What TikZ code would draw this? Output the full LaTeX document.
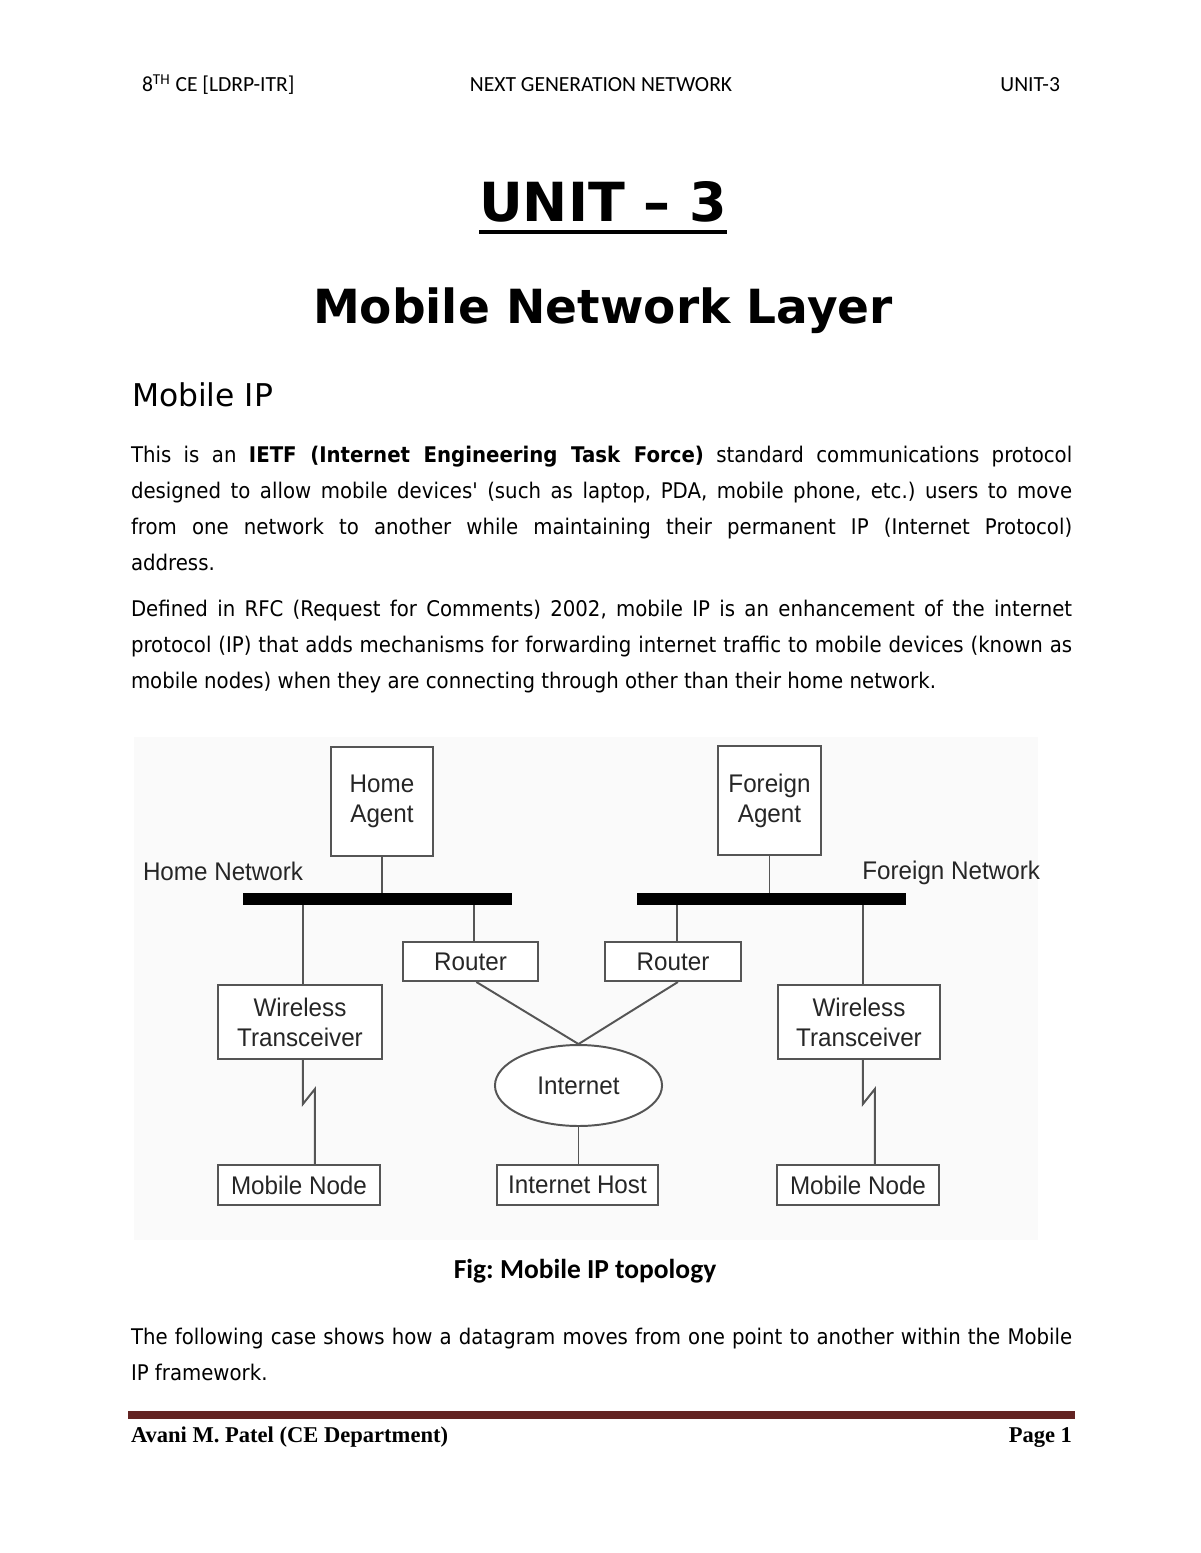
\documentclass[tikz,border=0pt]{standalone}
\usepackage{fontspec}
\usetikzlibrary{shapes.geometric}
\setmainfont{DejaVu Sans}
\newfontfamily\bodyfont{DejaVu Sans}[FakeStretch=0.915]
\newfontfamily\hdrfont{Carlito}
\newfontfamily\ftrfont{Liberation Serif}
\newfontfamily\diafont{Liberation Sans}[FakeStretch=0.95]
\definecolor{maroon}{HTML}{632423}
\definecolor{dline}{HTML}{555555}
\definecolor{dtext}{HTML}{262626}
\frenchspacing
\tikzset{
  txt/.style={inner sep=0pt, outer sep=0pt},
  bodyline/.style={txt, anchor=base west, font=\bodyfont\fontsize{11}{13}\selectfont},
  hdr/.style={txt, font=\hdrfont\fontsize{11}{13}\selectfont},
  dbox/.style={draw=dline, line width=1pt, fill=white, text=dtext, inner sep=0pt, align=center,
     font=\diafont\fontsize{13}{15.3}\selectfont},
  dlab/.style={txt, text=dtext, font=\diafont\fontsize{13}{15.3}\selectfont},
  bar/.style={fill=black, inner sep=0pt, minimum height=6.1pt},
  wire/.style={draw=dline, line width=1pt},
}
\begin{document}
\begin{tikzpicture}[x=0.51pt,y=-0.51pt]
\useasboundingbox (0,0) rectangle (1200,1553);
\fill[white] (0,0) rectangle (1200,1553);
% header
\node[hdr, anchor=base west] (h1) at (142,92) {8\textsuperscript{TH} CE [LDRP-ITR]};
\node[hdr, anchor=base] (h2) at (601,92) {NEXT GENERATION NETWORK};
\node[hdr, anchor=base east] (h3) at (1060,92) {UNIT-3};
% titles
\node[txt, anchor=base, font=\fontsize{27.5}{32}\selectfont\bfseries] (title) at (603,222) {UNIT – 3};
\draw[line width=2pt] ([yshift=-5.1pt]title.base west) -- ([yshift=-5.1pt]title.base east);
\node[txt, anchor=base, font=\fontsize{24}{28}\selectfont\bfseries] (sub) at (603,323) {Mobile Network Layer};
\node[txt, anchor=base west, font=\fontsize{16}{19}\selectfont] (sec) at (132,406) {Mobile IP};
% paragraph 1
\node[bodyline] (p1) at (131,462) {\makebox[480pt][s]{This is an \textbf{IETF (Internet Engineering Task Force)} standard communications protocol}};
\node[bodyline] (p2) at (131,498) {\makebox[480pt][s]{designed to allow mobile devices' (such as laptop, PDA, mobile phone, etc.) users to move}};
\node[bodyline] (p3) at (131,534) {\makebox[480pt][s]{from one network to another while maintaining their permanent IP (Internet Protocol)}};
\node[bodyline] (p4) at (131,570) {address.};
% paragraph 2
\node[bodyline] (q1) at (131,616) {\makebox[480pt][s]{Defined in RFC (Request for Comments) 2002, mobile IP is an enhancement of the internet}};
\node[bodyline] (q2) at (131,652) {\makebox[480pt][s]{protocol (IP) that adds mechanisms for forwarding internet traffic to mobile devices (known as}};
\node[bodyline] (q3) at (131,688) {mobile nodes) when they are connecting through other than their home network.};
% diagram background
\fill[black!2] (134,737) rectangle (1038,1240);
% bars
\node[bar, minimum width=137.2pt] (hbar) at (377.5,899) {};
\node[bar, minimum width=137.2pt] (fbar) at (771.5,899) {};
\node[dlab, anchor=base west] (hnet) at (143,880) {Home Network};
\node[dlab, anchor=base east] (fnet) at (1040,879) {Foreign Network};
% boxes
\node[dbox, minimum width=52pt, minimum height=55.6pt] (ha) at (382,801.5) {Home\\Agent};
\node[dbox, minimum width=52.5pt, minimum height=55.6pt] (fa) at (769.5,800.5) {Foreign\\Agent};
\node[dbox, minimum width=68.9pt, minimum height=19.9pt] (rl) at (470.5,961.5) {Router};
\node[dbox, minimum width=69.4pt, minimum height=19.9pt] (rr) at (673,961.5) {Router};
\node[dbox, minimum width=83.6pt, minimum height=37.7pt] (wtl) at (300,1022) {Wireless\\Transceiver};
\node[dbox, minimum width=82.6pt, minimum height=37.7pt] (wtr) at (859,1022) {Wireless\\Transceiver};
\node[dbox, ellipse, minimum width=85.2pt, minimum height=41.3pt] (inet) at (578.5,1085.5) {Internet};
\node[dbox, minimum width=82.6pt, minimum height=20.4pt] (mnl) at (299,1185) {Mobile Node};
\node[dbox, minimum width=82.1pt, minimum height=20.4pt] (ih) at (577.5,1185) {Internet Host};
\node[dbox, minimum width=82.6pt, minimum height=20.4pt] (mnr) at (858,1185) {Mobile Node};
% connectors
\draw[wire] (ha.south) -- (ha.south |- hbar.north);
\draw[wire] (fa.south) -- (fa.south |- fbar.north);
\draw[wire] ([xshift=1.5pt]wtl.north) -- ([xshift=1.5pt]wtl.north |- hbar.south);
\draw[wire] ([xshift=1.8pt]rl.north) -- ([xshift=1.8pt]rl.north |- hbar.south);
\draw[wire] ([xshift=2pt]rr.north) -- ([xshift=2pt]rr.north |- fbar.south);
\draw[wire] ([xshift=2pt]wtr.north) -- ([xshift=2pt]wtr.north |- fbar.south);
\draw[wire] ([xshift=3pt]rl.south) -- (inet.north);
\draw[wire] ([xshift=2.5pt]rr.south) -- (inet.north);
\draw[wire] (inet.south) -- (inet.south |- ih.north);
\draw[wire] ([xshift=1.5pt]wtl.south) -- ++(0,44) -- ++(12,-15) coordinate (zl) -- (zl |- mnl.north);
\draw[wire] ([xshift=2pt]wtr.south) -- ++(0,44) -- ++(12,-15) coordinate (zr) -- (zr |- mnr.north);
% caption
\node[txt, anchor=base, font=\hdrfont\fontsize{14}{16}\selectfont\bfseries] (cap) at (585,1278) {Fig: Mobile IP topology};
% paragraph 3
\node[bodyline] (r1) at (131,1344) {\makebox[480pt][s]{The following case shows how a datagram moves from one point to another within the Mobile}};
\node[bodyline] (r2) at (131,1380) {IP framework.};
% footer
\draw[maroon, line width=3.6pt] (128,1415) -- (1075,1415);
\node[txt, anchor=base west, font=\ftrfont\fontsize{11.5}{14}\selectfont\bfseries] (f1) at (131,1442) {Avani M. Patel (CE Department)};
\node[txt, anchor=base east, font=\ftrfont\fontsize{11.5}{14}\selectfont\bfseries] (f2) at (1072,1442) {Page 1};
\end{tikzpicture}
\end{document}
